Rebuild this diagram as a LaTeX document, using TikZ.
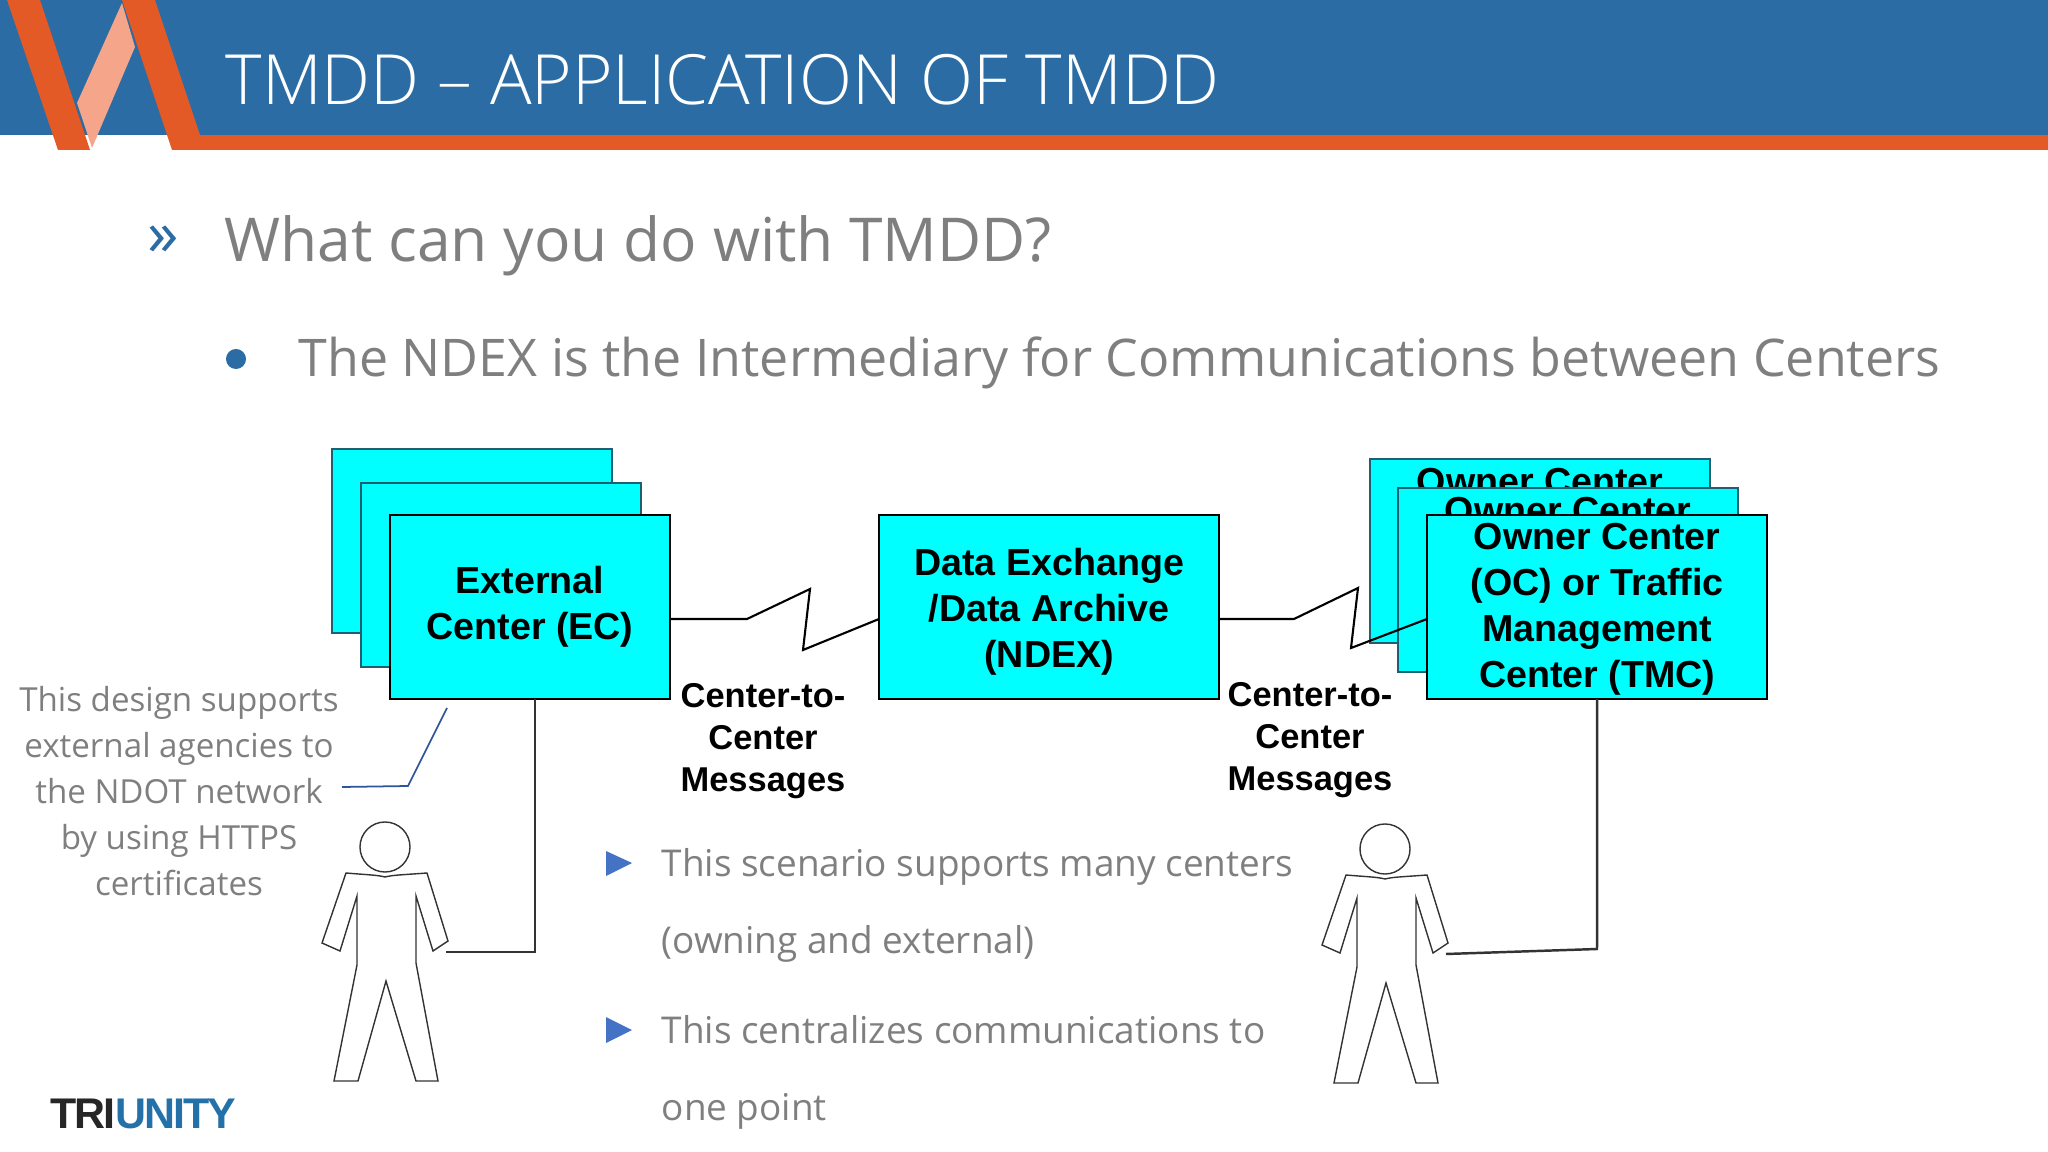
\documentclass[tikz,border=0pt]{standalone}
\usepackage{fontspec}
\usepackage{xcolor}
\setmainfont{Open Sans}
\newfontfamily\boxfont{Liberation Sans}
\newfontfamily\titlefont{Open Sans Light}
\usetikzlibrary{positioning,calc}

\definecolor{headblue}{HTML}{2A6CA3}
\definecolor{headorange}{HTML}{E35A26}
\definecolor{headpink}{HTML}{F4A58A}
\definecolor{bodygray}{HTML}{7F7F7F}
\definecolor{markblue}{HTML}{4472C4}
\definecolor{callblue}{HTML}{2F5597}
\definecolor{logoblue}{HTML}{2470A8}
\definecolor{boxcyan}{HTML}{00FFFF}
\definecolor{boxedge}{HTML}{1F5F6F}

\begin{document}
\begin{tikzpicture}[
    x=0.01cm, y=-0.01cm,
    center/.style={rectangle, draw=black, line width=0.6pt, outer sep=0pt, fill=boxcyan, minimum width=2.8cm, minimum height=1.84cm, inner sep=0pt, align=center, text=black, font=\boxfont\bfseries\fontsize{10.7}{13.1}\selectfont},
    backcenter/.style={center, draw=boxedge, anchor=north west},
    msg/.style={align=center, inner sep=0pt, font=\boxfont\bfseries\fontsize{9.8}{11.9}\selectfont},
    zig/.style={line width=0.6pt, black},
    link/.style={line width=0.7pt, black!80},
    body/.style={anchor=base west, inner sep=0pt, text=bodygray},
    small/.style={body, font=\fontsize{10.5}{10.5}\selectfont},
    tick/.style={fill=markblue, draw=none},
    person/.pic={
        \node[circle, draw=black!80, line width=0.4pt, minimum size=0.5cm, inner sep=0pt] (-head) at (0,0) {};
        \draw[black!80, line width=0.4pt] (-39,26) .. controls (-15,28) and (-8,28) .. (0,30) .. controls (8,28) and (15,28) .. (42,26)
            -- (63,94) -- (48,104) -- (31,49) -- (31,116) -- (53,234) -- (31,234) -- (1,134)
            -- (-27,234) -- (-51,234) -- (-28,118) -- (-28,49) -- (-45,104) -- (-63,96) -- cycle;
        \coordinate (-hand) at (61,105);
    }
]
    \useasboundingbox (0,0) rectangle (2048,1152);

    % header band
    \fill[headblue] (0,0) rectangle (2048,135);
    \fill[headorange] (172,135) rectangle (2048,150);
    \fill[headpink] (122,3) -- (135,47) -- (92,148) -- (77,103) -- cycle;
    \fill[headorange] (7,0) -- (40,0) -- (90,150) -- (58,150) -- cycle;
    \fill[headorange] (122,0) -- (155,0) -- (205,150) -- (172,150) -- cycle;
    \node[anchor=base west, inner sep=0pt, text=white, font=\titlefont\fontsize{19.7}{20}\selectfont] (title) at (225,105) {TMDD – APPLICATION OF TMDD};

    % text lines
    \node[anchor=center, inner sep=0pt, text=headblue, font=\fontsize{18}{18}\selectfont] (mark) at (163,241) {»};
    \node[body, font=\fontsize{17.2}{17.2}\selectfont] (question) at (224,262) {What can you do with TMDD?};
    \node[circle, fill=headblue, minimum size=0.2cm, inner sep=0pt] (dot) at (236,359) {};
    \node[body, font=\fontsize{14.76}{14.76}\selectfont] (intro) at (298,377) {The NDEX is the Intermediary for Communications between Centers};

    % external centers
    \node[center, backcenter] (ec1) at (332,449) {};
    \node[center, backcenter] (ec2) at (361,483) {};
    \node[center, anchor=north west] (ec) at (390,515) {External\\Center (EC)};

    % ndex
    \node[center, minimum width=3.4cm, anchor=north west] (ndex) at (879,515) {\rule{0pt}{10.2pt}Data Exchange\\/Data Archive\\(NDEX)};

    % owner centers
    \node[center, backcenter, minimum width=3.4cm, text depth=1.4cm] (oc1) at (1370,459) {Owner Center};
    \node[center, backcenter, minimum width=3.4cm, text depth=1.4cm] (oc2) at (1398,488) {Owner Center};
    \node[center, minimum width=3.4cm, anchor=north west] (oc) at (1427,515) {\rule{0pt}{8.9pt}Owner Center\\(OC) or Traffic\\Management\\Center (TMC)};

    % radio links
    \coordinate (zig1a) at (747,619);
    \coordinate (zig1b) at (810,589);
    \coordinate (zig1c) at (803,650);
    \coordinate (zig2a) at (1294,619);
    \coordinate (zig2b) at (1358,588);
    \coordinate (zig2c) at (1351,648);
    \draw[zig] (ec.east |- zig1a) -- (zig1a) -- (zig1b) -- (zig1c) -- (ndex.west |- zig1a);
    \draw[zig] (ndex.east |- zig2a) -- (zig2a) -- (zig2b) -- (zig2c) -- (oc.west |- zig2a);
    \node[msg] (msg1) at (763,741) {Center-to-\\Center\\Messages};
    \node[msg] (msg2) at (1310,740) {Center-to-\\Center\\Messages};

    % people
    \pic (userA) at (385,847) {person};
    \pic (userB) at (1385,849) {person};
    \coordinate (ecdrop) at ($(ec.south)+(5,0)$);
    \coordinate (ocbend) at (1597,949);
    \draw[link] (userA-hand) -- (userA-hand -| ecdrop) -- (ecdrop);
    \draw[link] (userB-hand) -- (ocbend) -- (oc.south);

    % side note
    \node[align=center, inner sep=0pt, text=bodygray, font=\fontsize{9.42}{13.1}\selectfont] (note) at (179,791) {This design supports\\external agencies to\\the NDOT network\\by using HTTPS\\certificates};
    \coordinate (notestart) at (342,787);
    \coordinate (noteend) at (447,708);
    \draw[callblue, line width=0.5pt] (notestart) -- (408,786) -- (noteend);

    % bullets
    \node[small] (b1) at (661,876) {This scenario supports many centers};
    \node[small] (b2) at (661,953) {(owning and external)};
    \node[small] (b3) at (661,1043) {This centralizes communications to};
    \node[small] (b4) at (661,1120) {one point};
    \fill[tick] (606,851) -- (632,863) -- (606,876) -- cycle;
    \fill[tick] (606,1017) -- (632,1030) -- (606,1043) -- cycle;

    % logo
    \node[anchor=base west, inner sep=0pt, font=\boxfont\bfseries\fontsize{12.2}{12.2}\selectfont] (logo) at (50,1128) {\addfontfeature{LetterSpace=-5}\textcolor{black!85}{TRI}\textcolor{logoblue}{UNITY}};
\end{tikzpicture}
\end{document}
